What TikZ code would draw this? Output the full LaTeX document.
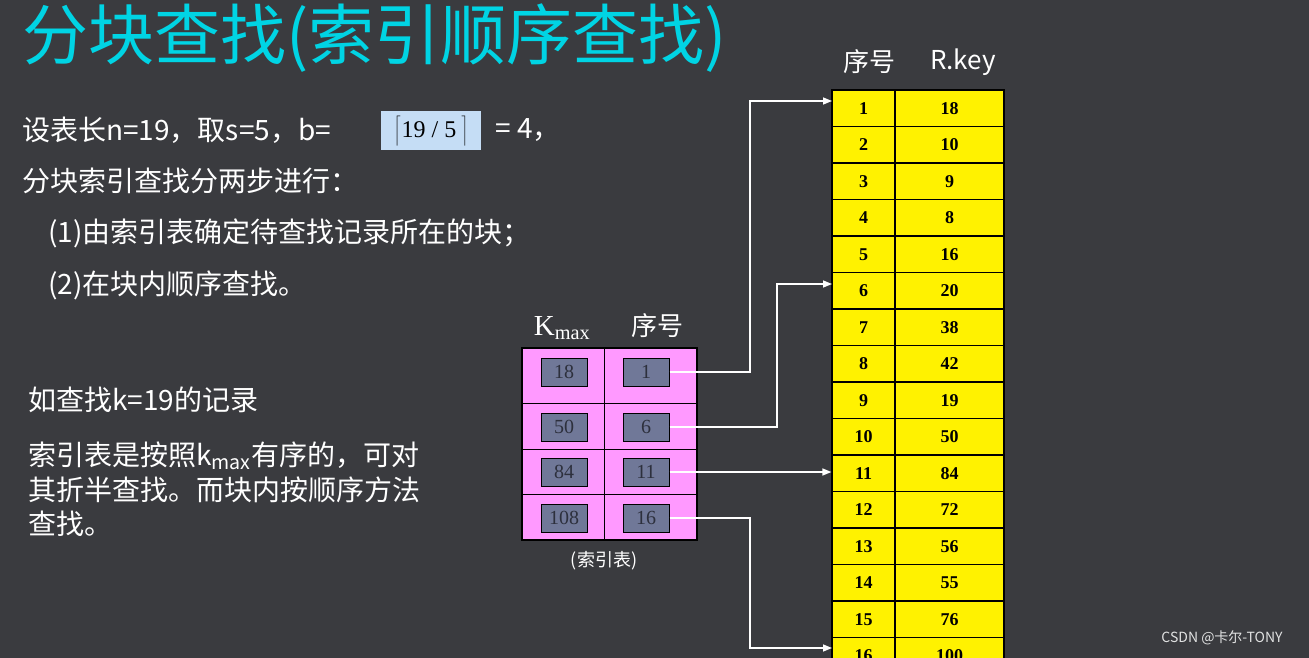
\documentclass[tikz,border=0pt]{standalone}
\usepackage{fontspec}
\setmainfont{Noto Sans CJK SC}
\newfontfamily\tnr{Liberation Serif}
\usetikzlibrary{arrows.meta}
\definecolor{bg}{HTML}{3A3B3F}
\definecolor{ttl}{HTML}{00D4E4}
\definecolor{pinkc}{HTML}{FF99FF}
\definecolor{slate}{HTML}{707898}
\definecolor{lblue}{HTML}{C5DDF5}
\begin{document}
\begin{tikzpicture}[x=1pt,y=-1pt,
  body/.style={text=white,anchor=west,font=\fontsize{28}{30}\selectfont,inner sep=0},
  cell/.style={draw=black,line width=1.2pt,fill=yellow,minimum height=36.5pt,inner sep=0,font=\tnr\bfseries\fontsize{18}{20}\selectfont},
  ibox/.style={draw=black,line width=1pt,fill=slate,minimum width=46pt,minimum height=28pt,inner sep=0,text=black!60!slate,font=\tnr\fontsize{20}{22}\selectfont},
  conn/.style={white,line width=1.5pt},
  arr/.style={conn,-{Triangle[length=9pt,width=7pt]}}]
\fill[bg] (0,0) rectangle (1309,658);
\useasboundingbox (0,0) rectangle (1309,658);
\node[anchor=west,text=ttl,inner sep=0,font=\fontsize{66}{68}\selectfont] (title) at (22,38) {分块查找(索引顺序查找)};
\node[body] (l1) at (22,130) {设表长n=19，取s=5，b=};
\node[fill=lblue,minimum width=100pt,minimum height=39pt,inner sep=0,font=\tnr\fontsize{24}{26}\selectfont] (frm) at (431,131) {$\left\lceil\vphantom{1^1_1}\right.$19 / 5\,$\left.\vphantom{1^1_1}\right\rceil$};
\node[body] (l1b) at (495,130) {= 4，};
\node[body] (l2) at (22,181) {分块索引查找分两步进行：};
\node[body] (l3) at (48,233) {(1)由索引表确定待查找记录所在的块；};
\node[body] (l4) at (48,285) {(2)在块内顺序查找。};
\node[body] (l5) at (28,400) {如查找k=19的记录};
\node[body] (l6) at (28,456) {索引表是按照k\textsubscript{max}有序的，可对};
\node[body] (l7) at (28,490) {其折半查找。而块内按顺序方法};
\node[body] (l8) at (28,524) {查找。};
\node[text=white,font=\fontsize{26}{28}\selectfont] (h1) at (869,62) {序号};
\node[text=white,font=\fontsize{26}{28}\selectfont] (h2) at (963,62) {R.key};
% main table
\foreach \i/\k in {1/18,2/10,3/9,4/8,5/16,6/20,7/38,8/42,9/19,10/50,11/84,12/72,13/56,14/55,15/76,16/100}{
  \node[cell,minimum width=63pt] (n\i) at (863.5,{90+36.5*(\i-0.5)}) {\i};
  \node[cell,minimum width=109pt] (k\i) at (949.5,{90+36.5*(\i-0.5)}) {\k};
}
\draw[black,line width=2.5pt] (832,90) -- (1004,90) -- (1004,700) (832,90) -- (832,700);
% index table
\node[text=white,font=\tnr\fontsize{29}{30}\selectfont] (hk) at (562,328) {K\textsubscript{max}};
\node[text=white,font=\fontsize{26}{28}\selectfont] (hs) at (657,326) {序号};
\fill[pinkc] (522,348) rectangle (697,540);
\draw[black,line width=1pt] (604,348) -- (604,540) (522,403) -- (697,403) (522,449) -- (697,449) (522,494) -- (697,494);
\draw[black,line width=2.5pt] (522,348) rectangle (697,540);
\foreach \j/\kv/\sv/\y in {1/18/1/372,2/50/6/427,3/84/11/472,4/108/16/518}{
  \node[ibox] (ik\j) at (564,\y) {\kv};
  \node[ibox] (is\j) at (646,\y) {\sv};
}
\node[text=white,font=\fontsize{18}{20}\selectfont] (cap) at (604,561) {(索引表)};
\coordinate (t1) at (832,101);
\coordinate (t6) at (832,284);
\coordinate (t16) at (832,648);
\draw[arr] (is1.east) -- (750,372) |- (t1);
\draw[arr] (is2.east) -- (777,427) |- (t6);
\draw[arr] (is3.east) -- (n11.west |- is3.east);
\draw[arr] (is4.east) -- (750,518) |- (t16);
\node[text=white!85!bg,font=\fontsize{14}{16}\selectfont] (wm) at (1222,638) {CSDN @卡尔-TONY};
\end{tikzpicture}
\end{document}
